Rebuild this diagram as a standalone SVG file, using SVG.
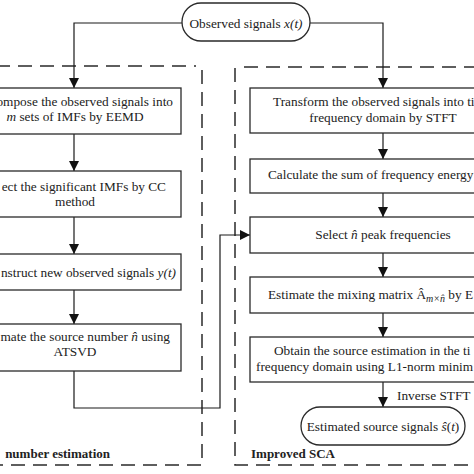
<svg xmlns="http://www.w3.org/2000/svg" width="474" height="474" viewBox="0 0 474 474">
<style>
.box{fill:#fff;stroke:#2a2a2a;stroke-width:1.3}
.dash{fill:none;stroke:#2a2a2a;stroke-width:1.5;stroke-dasharray:14 8}
.ln{fill:none;stroke:#1a1a1a;stroke-width:1.2}
text{font-family:"Liberation Serif","Times New Roman",serif;font-size:13.3px;fill:#222}
.b{font-weight:bold;font-size:13px}
.m{text-anchor:middle}
.e{text-anchor:end}
.i{font-style:italic}
</style>
<defs>
<marker id="ah" viewBox="0 0 10 10" refX="10" refY="5" markerWidth="10" markerHeight="10" markerUnits="userSpaceOnUse" orient="auto">
<path d="M0,0 L10,5 L0,10 z" fill="#111"/>
</marker>
</defs>
<rect width="474" height="474" fill="#fff"/>
<g id="groups">
<path class="dash" d="M-4,66 H196"/>
<path class="dash" d="M202,70 V465 H-4"/>
<path class="dash" d="M244,67 H478"/>
<path class="dash" d="M235,68 V465 H478"/>
<text class="b e" x="110" y="458">number estimation</text>
<text class="b" x="251" y="458">Improved SCA</text>
</g>
<g id="connectors">
<path class="ln" d="M182,23 H74 V88" marker-end="url(#ah)"/>
<path class="ln" d="M310,23 H383 V88" marker-end="url(#ah)"/>
<path class="ln" d="M74,134 V171" marker-end="url(#ah)"/>
<path class="ln" d="M74,217 V254" marker-end="url(#ah)"/>
<path class="ln" d="M74,290 V324" marker-end="url(#ah)"/>
<path class="ln" d="M74,371 V408 H220 V235 H250" marker-end="url(#ah)"/>
<path class="ln" d="M383,133 V159" marker-end="url(#ah)"/>
<path class="ln" d="M383,193 V217" marker-end="url(#ah)"/>
<path class="ln" d="M383,253 V277" marker-end="url(#ah)"/>
<path class="ln" d="M383,313 V337" marker-end="url(#ah)"/>
<path class="ln" d="M383,382 V407" marker-end="url(#ah)"/>
<text x="397" y="400">Inverse STFT</text>
</g>
<g id="observed">
<rect class="box" x="182" y="3" width="128" height="38" rx="19"/>
<text class="m" x="246" y="27.5">Observed signals <tspan class="i">x(t)</tspan></text>
</g>
<g id="decompose">
<rect class="box" x="-33" y="88" width="214" height="46"/>
<text class="e" x="173" y="106">ompose the observed signals into</text>
<text class="m" x="75" y="121"><tspan class="i">m</tspan> sets of IMFs by EEMD</text>
</g>
<g id="select-imf">
<rect class="box" x="-33" y="171" width="214" height="46"/>
<text class="e" x="166" y="190.5">ect the significant IMFs by CC</text>
<text class="m" x="75" y="205.5">method</text>
</g>
<g id="construct">
<rect class="box" x="-33" y="254" width="214" height="36"/>
<text class="e" x="176" y="276.5">nstruct new observed signals <tspan class="i">y(t)</tspan></text>
</g>
<g id="estimate-number">
<rect class="box" x="-33" y="324" width="214" height="47"/>
<text class="e" x="170" y="340.5">mate the source number <tspan class="i">n̂</tspan> using</text>
<text class="m" x="75" y="356">ATSVD</text>
</g>
<g id="transform">
<rect class="box" x="250" y="88" width="266" height="45"/>
<text x="273" y="105.7">Transform the observed signals into ti</text>
<text class="m" x="383" y="121.5">frequency domain by STFT</text>
</g>
<g id="calculate">
<rect class="box" x="250" y="159" width="266" height="34"/>
<text x="268" y="178.5">Calculate the sum of frequency energy</text>
</g>
<g id="select-peak">
<rect class="box" x="250" y="217" width="266" height="36"/>
<text class="m" x="383" y="239">Select <tspan class="i">n̂</tspan> peak frequencies</text>
</g>
<g id="mixing">
<rect class="box" x="250" y="277" width="266" height="36"/>
<text x="268" y="298.5">Estimate the mixing matrix Â<tspan class="i" font-size="10" dy="3">m×n̂</tspan><tspan dy="-3"> by E</tspan></text>
</g>
<g id="obtain">
<rect class="box" x="250" y="337" width="266" height="45"/>
<text x="274" y="354.5">Obtain the source estimation in the ti</text>
<text x="256" y="370.5">frequency domain using L1-norm minim</text>
</g>
<g id="estimated">
<rect class="box" x="301" y="407" width="164" height="38" rx="19"/>
<text class="m" x="383" y="431">Estimated source signals <tspan class="i">ŝ</tspan>(<tspan class="i">t</tspan>)</text>
</g>
</svg>
